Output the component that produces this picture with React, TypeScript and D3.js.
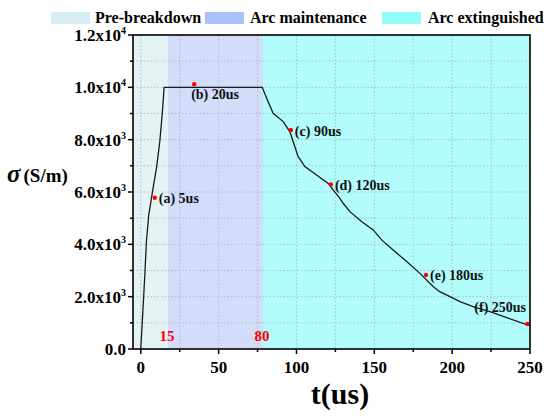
import * as d3 from 'd3';

// curve: t in us, sigma in S/m
const curveT = [
  0, 1.3, 2.6, 3.6, 5.1, 7.9, 10.1, 12.2, 13.8, 15, 78, 81.8, 85, 91.5, 95.8, 97.9, 101.1, 105.4, 112.9,
  120.4, 123.6, 127.9, 130, 134.3, 141.8, 149.3, 154.7, 162.1, 170.8, 179.3, 187.9, 192, 198.6, 205, 214.7,
  224.3, 235, 248.3, 250,
];
const curveSigma = [
  0, 1400, 2830, 4100, 5120, 6150, 6920, 7920, 9000, 10000, 10000, 9450, 9010, 8690, 8300, 7920, 7350, 6970,
  6650, 6330, 6080, 5760, 5570, 5250, 4870, 4550, 4170, 3780, 3340, 2890, 2380, 2190, 2000, 1810, 1590, 1430,
  1200, 920, 900,
];

const markerT = [9, 34.3, 96.4, 122.1, 183.2, 248.3];
const markerSigma = [5780, 10120, 8370, 6290, 2830, 955];
const markerLabels = ['(a) 5us', '(b) 20us', '(c) 90us', '(d) 120us', '(e) 180us', '(f) 250us'];

const regionNames = ['Pre-breakdown', 'Arc maintenance', 'Arc extinguished'];
const regionStart = [-5, 17.5, 78.5];
const regionEnd = [17.5, 78.5, 250];

const boundaryT = [17.5, 78.5];
const boundaryLabels = ['15', '80'];

const xTicks = [0, 50, 100, 150, 200, 250];
const xMinor = [25, 75, 125, 175, 225];
const yTicks = [0, 2000, 4000, 6000, 8000, 10000, 12000];
const yMinor = [1000, 3000, 5000, 7000, 9000, 11000];

const regionFill = ['#e4f4f4', '#d3ddfa', '#b2fdfb'];
const legendFill = ['#d6eef2', '#a9c1f7', '#93fdf9'];
// label offsets from each red marker
const labelDx = [4, -3, 4, 4, 4, -53];
const labelDy = [5, 15, 6, 6, 5, -12];

const serif = 'Liberation Serif, DejaVu Serif, serif';

const W = 550;
const H = 416;
const left = 133;
const right = 530;
const top = 35;
const bottom = 349;

function yLabel(v: number) {
  if (v === 0) return { base: '0.0', exp: '' };
  const e = Math.floor(Math.log10(v));
  const m = v / Math.pow(10, e);
  return { base: `${m.toFixed(1)}x10`, exp: String(e) };
}

export default function App() {
  const x = d3.scaleLinear().domain([-5, 250]).range([left, right]);
  const y = d3.scaleLinear().domain([0, 12000]).range([bottom, top]);

  const line = d3
    .line<number>()
    .x((_, i) => x(curveT[i]))
    .y((d) => y(d));

  const gridX = [...xTicks, ...xMinor].filter((t) => t > 0 && t < 250).concat([0]);
  const gridY = [...yTicks, ...yMinor].filter((v) => v > 0 && v < 12000);

  const legendX = [51, 205, 382];
  const legendTextX = [95, 250, 428];

  return (
    <>
      <style>{`body{margin:0} svg text{font-family:"Liberation Serif","DejaVu Serif",serif}`}</style>
      <svg width={W} height={H} style={{ display: 'block' }} fontFamily={serif}>
        <rect width={W} height={H} fill="#fff" />

        {regionNames.map((n, i) => (
          <rect
            key={n}
            x={x(regionStart[i])}
            y={top}
            width={x(regionEnd[i]) - x(regionStart[i])}
            height={bottom - top}
            fill={regionFill[i]}
          />
        ))}

        <g stroke="#aab0b8" strokeWidth={0.8} strokeDasharray="1.5,2">
          {gridX.map((t) => (
            <line key={'gx' + t} x1={x(t)} x2={x(t)} y1={top} y2={bottom} />
          ))}
          {gridY.map((v) => (
            <line key={'gy' + v} x1={left} x2={right} y1={y(v)} y2={y(v)} />
          ))}
        </g>

        <path d={line(curveSigma) ?? ''} fill="none" stroke="#1a1a1a" strokeWidth={1.3} />

        {markerT.map((t, i) => (
          <g key={markerLabels[i]}>
            <circle cx={x(t)} cy={y(markerSigma[i])} r={2.2} fill="#ff0000" />
            <text
              x={x(t) + labelDx[i]}
              y={y(markerSigma[i]) + labelDy[i]}
              fontSize={14}
              fontWeight="bold"
              fill="#111"
            >
              {markerLabels[i]}
            </text>
          </g>
        ))}

        {boundaryT.map((t, i) => (
          <text
            key={boundaryLabels[i]}
            x={x(t) - 1}
            y={341}
            textAnchor="middle"
            fontSize={15}
            fontWeight="bold"
            fill="#ff0000"
          >
            {boundaryLabels[i]}
          </text>
        ))}

        <rect x={left} y={top} width={right - left} height={bottom - top} fill="none" stroke="#000" strokeWidth={1.6} />

        <g stroke="#000" strokeWidth={1.5}>
          {xTicks.map((t) => (
            <line key={'xt' + t} x1={x(t)} x2={x(t)} y1={bottom} y2={bottom + 5} />
          ))}
          {xMinor.map((t) => (
            <line key={'xm' + t} x1={x(t)} x2={x(t)} y1={bottom} y2={bottom + 3} />
          ))}
          {yTicks.map((v) => (
            <line key={'yt' + v} x1={left} x2={left - 5} y1={y(v)} y2={y(v)} />
          ))}
          {yMinor.map((v) => (
            <line key={'ym' + v} x1={left} x2={left - 3} y1={y(v)} y2={y(v)} />
          ))}
        </g>

        {xTicks.map((t) => (
          <text key={'xl' + t} x={x(t)} y={373} textAnchor="middle" fontSize={17} fontWeight="bold">
            {t}
          </text>
        ))}

        {yTicks.map((v) => {
          const l = yLabel(v);
          return (
            <text key={'yl' + v} x={126} y={y(v) + 6} textAnchor="end" fontSize={17} fontWeight="bold">
              {l.base}
              {l.exp && (
                <tspan fontSize={10} dy={-7}>
                  {l.exp}
                </tspan>
              )}
            </text>
          );
        })}

        <text x={340} y={404} textAnchor="middle" fontSize={30} fontWeight="bold">
          t(us)
        </text>

        <text x={7} y={182} fontWeight="bold">
          <tspan fontSize={25} fontStyle="italic">
            σ
          </tspan>
          <tspan fontSize={19} dx={3}>
            (S/m)
          </tspan>
        </text>

        {regionNames.map((n, i) => (
          <g key={'lg' + n}>
            <rect x={legendX[i]} y={12} width={39} height={12} fill={legendFill[i]} />
            <text x={legendTextX[i]} y={23} fontSize={16} fontWeight="bold">
              {n}
            </text>
          </g>
        ))}
      </svg>
    </>
  );
}
